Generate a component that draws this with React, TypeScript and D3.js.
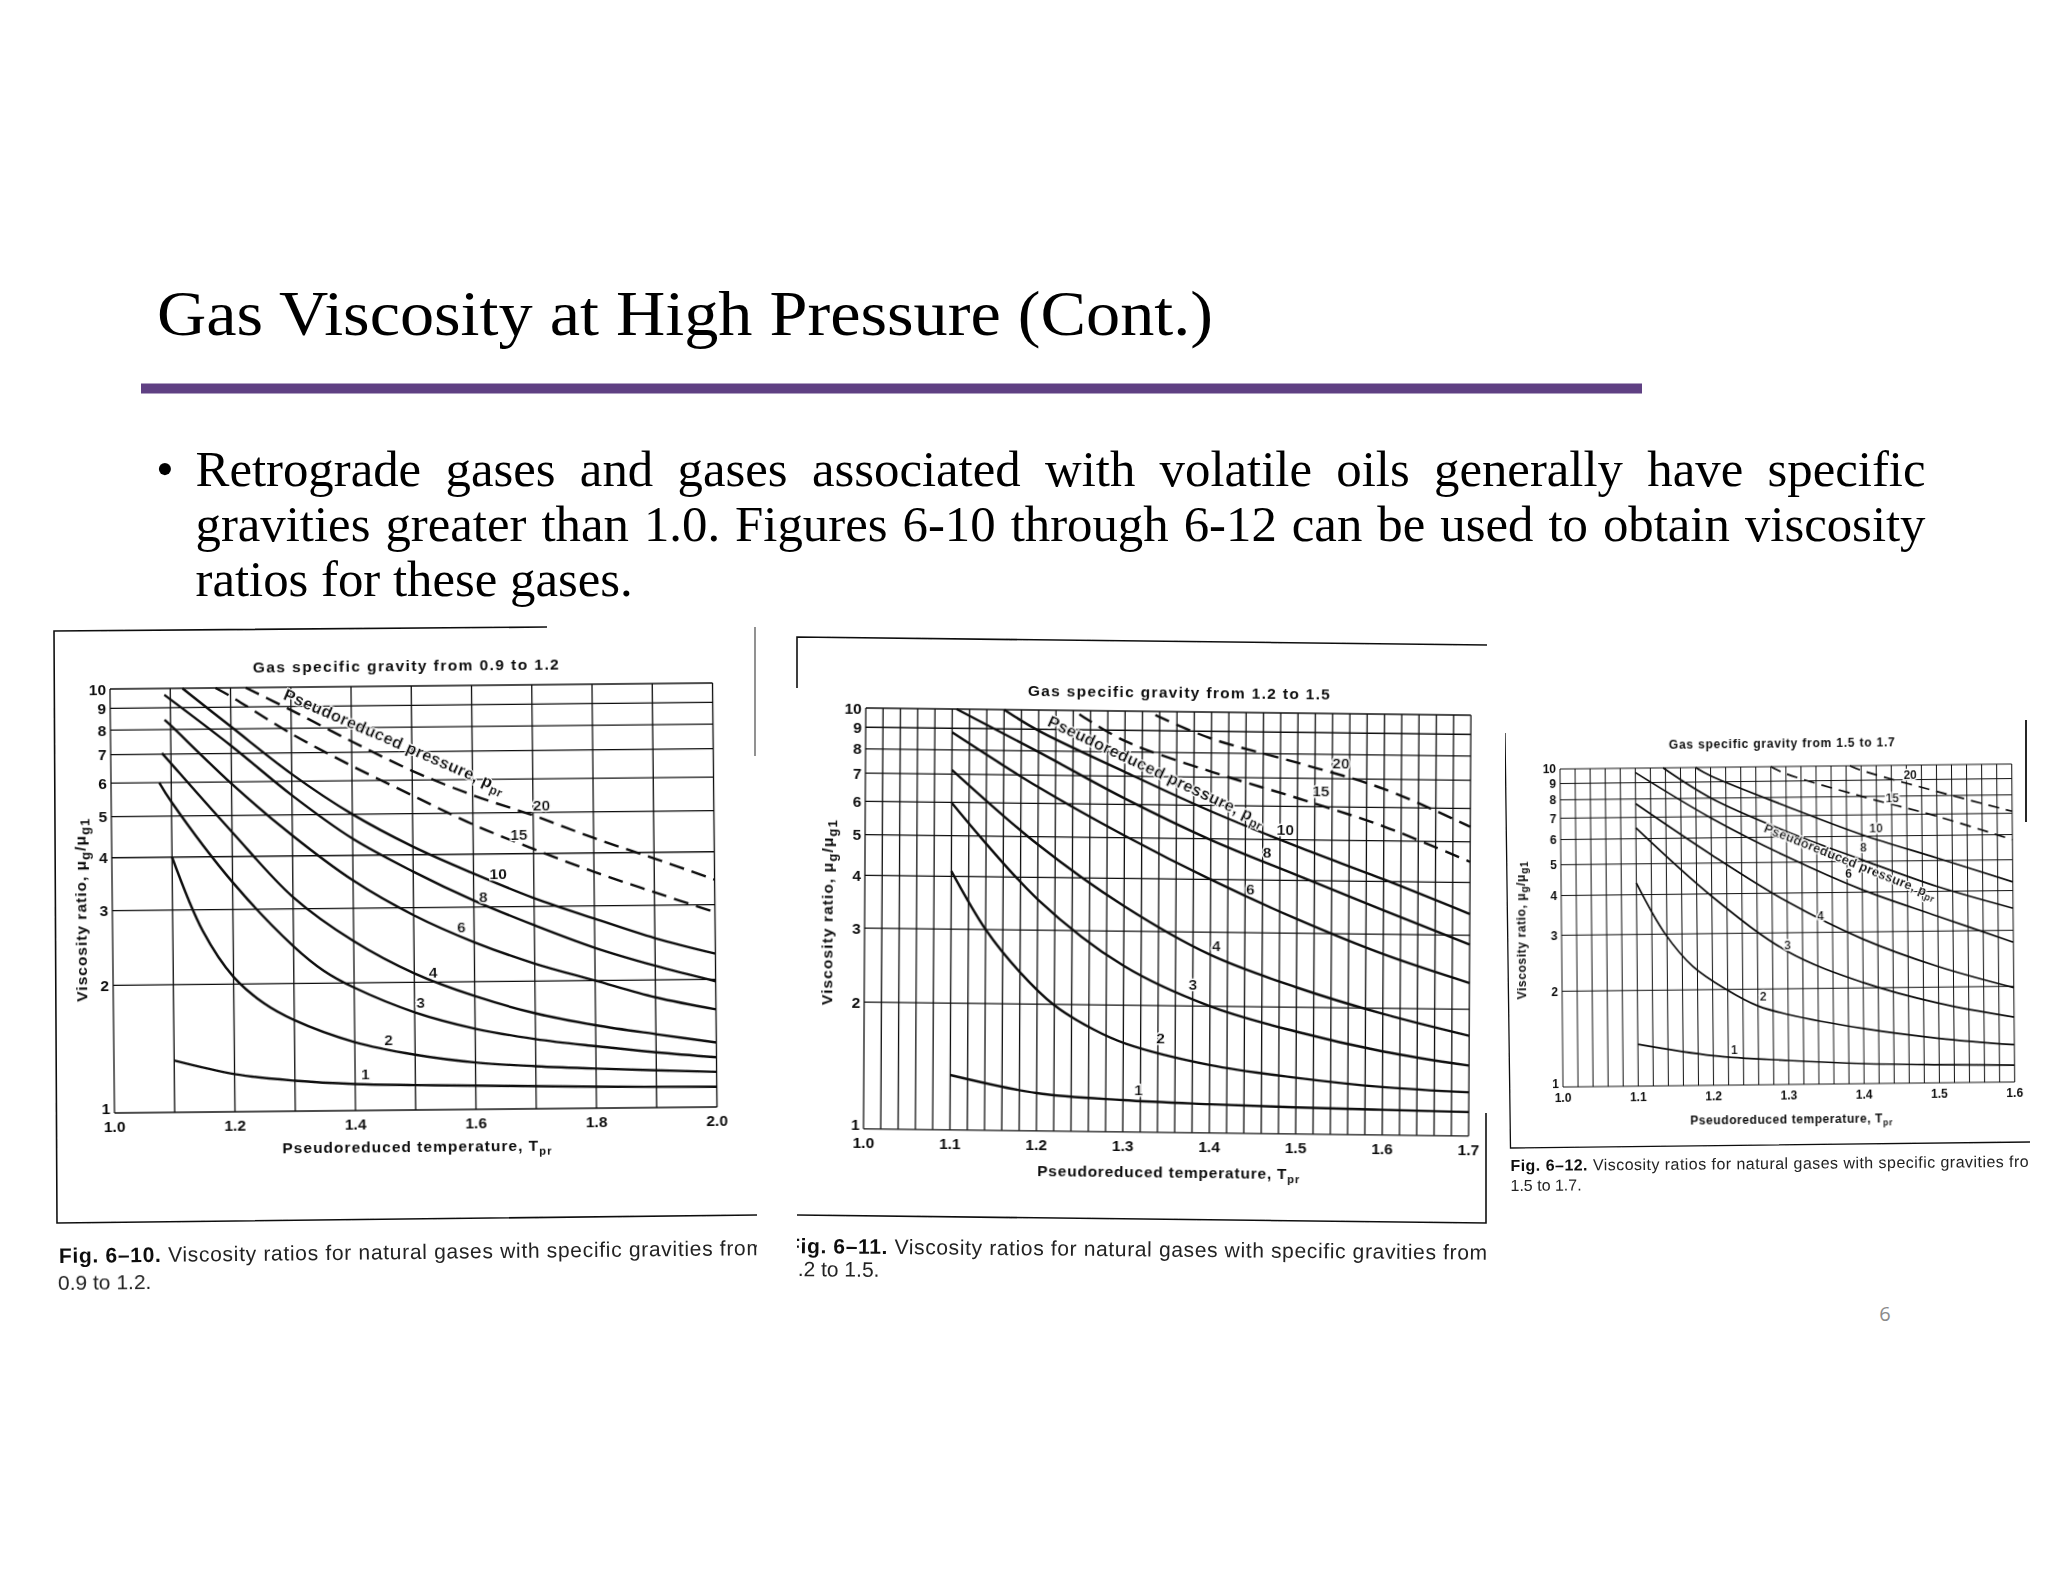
import React from "react";
import * as d3 from "d3";

type Pt = [number, number];
type Curve = { p: string; dashed?: boolean; pts: Pt[] };

const slideTitle = "Gas Viscosity at High Pressure (Cont.)";
const bulletLines = [
  "Retrograde gases and gases associated with volatile oils generally have specific",
  "gravities greater than 1.0. Figures 6-10 through 6-12 can be used to obtain viscosity",
  "ratios for these gases.",
];
const yTicks = [1, 2, 3, 4, 5, 6, 7, 8, 9, 10];

const fig10Curves: Curve[] = [
  { p: "1", pts: [[1.1, 1.325], [1.2, 1.227], [1.3, 1.18], [1.4, 1.155], [1.5, 1.145], [1.6, 1.138], [1.8, 1.124], [2.0, 1.116]] },
  { p: "2", pts: [[1.1, 4.0], [1.15, 2.67], [1.2, 2.08], [1.25, 1.8], [1.3, 1.64], [1.4, 1.45], [1.5, 1.35], [1.6, 1.29], [1.7, 1.26], [1.8, 1.24], [2.0, 1.21]] },
  { p: "3", pts: [[1.08, 6.0], [1.1, 5.4], [1.2, 3.48], [1.3, 2.45], [1.35, 2.14], [1.4, 1.95], [1.5, 1.7], [1.6, 1.55], [1.7, 1.46], [1.8, 1.4], [1.9, 1.35], [2.0, 1.31]] },
  { p: "4", pts: [[1.085, 7.04], [1.1, 6.65], [1.2, 4.57], [1.3, 3.2], [1.4, 2.51], [1.5, 2.1], [1.6, 1.85], [1.7, 1.68], [1.8, 1.57], [1.9, 1.49], [2.0, 1.42]] },
  { p: "6", pts: [[1.09, 8.43], [1.1, 8.18], [1.2, 5.94], [1.3, 4.47], [1.4, 3.49], [1.5, 2.88], [1.6, 2.48], [1.7, 2.2], [1.8, 2.0], [1.9, 1.82], [2.0, 1.7]] },
  { p: "8", pts: [[1.09, 9.66], [1.2, 7.3], [1.3, 5.56], [1.4, 4.38], [1.5, 3.65], [1.6, 3.11], [1.7, 2.71], [1.8, 2.39], [1.9, 2.16], [2.0, 1.98]] },
  { p: "10", pts: [[1.12, 10], [1.2, 8.1], [1.3, 6.24], [1.4, 5.0], [1.5, 4.18], [1.6, 3.6], [1.7, 3.14], [1.8, 2.8], [1.9, 2.51], [2.0, 2.3]] },
  { p: "15", dashed: true, pts: [[1.175, 10], [1.2, 9.55], [1.3, 7.77], [1.4, 6.5], [1.5, 5.52], [1.6, 4.7], [1.7, 4.1], [1.8, 3.61], [1.9, 3.22], [2.0, 2.88]] },
  { p: "20", dashed: true, pts: [[1.225, 10], [1.3, 8.83], [1.4, 7.43], [1.5, 6.31], [1.6, 5.51], [1.7, 4.92], [1.8, 4.34], [1.9, 3.87], [2.0, 3.44]] },
];
const fig10Labels: [string, number, number][] = [
  ["20", 1.714, 5.19], ["15", 1.676, 4.45], ["10", 1.641, 3.59], ["8", 1.616, 3.17], ["6", 1.579, 2.69],
  ["4", 1.531, 2.11], ["3", 1.51, 1.79], ["2", 1.456, 1.47], ["1", 1.417, 1.22],
];

const fig11Curves: Curve[] = [
  { p: "1", pts: [[1.1, 1.35], [1.2, 1.23], [1.3, 1.19], [1.4, 1.17], [1.5, 1.156], [1.6, 1.148], [1.7, 1.14]] },
  { p: "2", pts: [[1.1, 4.12], [1.141, 2.98], [1.18, 2.38], [1.22, 1.99], [1.265, 1.75], [1.303, 1.62], [1.4, 1.45], [1.5, 1.36], [1.6, 1.3], [1.7, 1.27]] },
  { p: "3", pts: [[1.1, 5.99], [1.2, 3.55], [1.3, 2.48], [1.4, 2.0], [1.5, 1.75], [1.6, 1.58], [1.7, 1.47]] },
  { p: "4", pts: [[1.1, 7.17], [1.2, 4.79], [1.3, 3.44], [1.4, 2.65], [1.5, 2.23], [1.6, 1.94], [1.7, 1.73]] },
  { p: "6", pts: [[1.1, 8.8], [1.2, 6.56], [1.3, 5.06], [1.4, 4.0], [1.5, 3.24], [1.6, 2.69], [1.7, 2.31]] },
  { p: "8", pts: [[1.105, 10], [1.2, 7.95], [1.3, 6.2], [1.4, 4.97], [1.5, 4.12], [1.6, 3.42], [1.7, 2.85]] },
  { p: "10", pts: [[1.16, 10], [1.2, 8.93], [1.3, 7.17], [1.4, 5.81], [1.5, 4.82], [1.6, 4.05], [1.7, 3.37]] },
  { p: "15", dashed: true, pts: [[1.247, 9.8], [1.3, 8.49], [1.4, 7.22], [1.5, 6.28], [1.6, 5.41], [1.7, 4.48]] },
  { p: "20", dashed: true, pts: [[1.335, 9.8], [1.4, 8.65], [1.5, 7.62], [1.6, 6.64], [1.7, 5.43]] },
];
const fig11Labels: [string, number, number][] = [
  ["20", 1.55, 7.63], ["15", 1.527, 6.56], ["10", 1.486, 5.3], ["8", 1.465, 4.66], ["6", 1.446, 3.8],
  ["4", 1.407, 2.79], ["3", 1.38, 2.25], ["2", 1.343, 1.68], ["1", 1.318, 1.26],
];

const fig12Curves: Curve[] = [
  { p: "1", pts: [[1.1, 1.355], [1.2, 1.24], [1.3, 1.19], [1.4, 1.156], [1.5, 1.14], [1.6, 1.13]] },
  { p: "2", pts: [[1.1, 4.35], [1.137, 3.02], [1.174, 2.37], [1.218, 2.0], [1.26, 1.77], [1.3, 1.66], [1.4, 1.49], [1.5, 1.38], [1.6, 1.31]] },
  { p: "3", pts: [[1.1, 6.49], [1.2, 3.93], [1.3, 2.62], [1.4, 2.08], [1.5, 1.78], [1.6, 1.6]] },
  { p: "4", pts: [[1.1, 7.73], [1.2, 5.31], [1.3, 3.76], [1.4, 2.85], [1.5, 2.32], [1.6, 1.98]] },
  { p: "6", pts: [[1.1, 9.69], [1.2, 6.93], [1.3, 5.21], [1.4, 4.07], [1.5, 3.34], [1.6, 2.75]] },
  { p: "8", pts: [[1.137, 10], [1.2, 8.01], [1.3, 6.25], [1.4, 5.06], [1.5, 4.14], [1.6, 3.52]] },
  { p: "10", pts: [[1.18, 10], [1.2, 9.4], [1.3, 7.5], [1.4, 6.07], [1.5, 5.09], [1.6, 4.26]] },
  { p: "15", dashed: true, pts: [[1.28, 10], [1.3, 9.49], [1.4, 8.01], [1.5, 6.89], [1.6, 5.78]] },
  { p: "20", dashed: true, pts: [[1.385, 10], [1.4, 9.67], [1.5, 8.25], [1.6, 7.1]] },
];
const fig12Labels: [string, number, number][] = [
  ["20", 1.465, 9.33], ["15", 1.441, 7.89], ["10", 1.419, 6.35], ["8", 1.402, 5.53], ["6", 1.382, 4.6],
  ["4", 1.344, 3.38], ["3", 1.3, 2.74], ["2", 1.267, 1.9], ["1", 1.228, 1.29],
];

const fig10Grid = d3.range(11).map((i) => 1 + i * 0.1);
const fig11Grid = d3.range(36).map((i) => 1 + i * 0.02);
const fig12Grid = d3.range(31).map((i) => 1 + i * 0.02);
const fig10XTicks = [1.0, 1.2, 1.4, 1.6, 1.8, 2.0];
const fig11XTicks = [1.0, 1.1, 1.2, 1.3, 1.4, 1.5, 1.6, 1.7];
const fig12XTicks = [1.0, 1.1, 1.2, 1.3, 1.4, 1.5, 1.6];

const SANS = "'Liberation Sans', Arial, sans-serif";
const SERIF = "'Liberation Serif', 'Times New Roman', serif";
const INK = "#111";

type PlotProps = {
  tl: Pt; tr: Pt; bl: Pt; br: Pt;
  xMax: number; grid: number[]; xTicks: number[]; curves: Curve[]; labels: [string, number, number][];
  title: string; titleY: number; titleW: number; titleCx: number;
  xLabelY: number; xLabelW: number; xLabelCx: number;
  yLabelX: number; yLabelCy: number; yLabelLen: number;
  tickFs: number; titleFs: number; labelFs: number; curveW: number; gridW: number; dash: string;
  xTickDy: number;
  pp: { x: number; v: number; angle: number; len: number; fs: number };
};

function Plot(p: PlotProps) {
  const w = Math.hypot(p.br[0] - p.bl[0], p.br[1] - p.bl[1]);
  const h = Math.hypot(p.tl[0] - p.bl[0], p.tl[1] - p.bl[1]);
  const m = [
    (p.br[0] - p.bl[0]) / w, (p.br[1] - p.bl[1]) / w,
    (p.bl[0] - p.tl[0]) / h, (p.bl[1] - p.tl[1]) / h,
    p.tl[0], p.tl[1],
  ];
  const x = d3.scaleLinear().domain([1, p.xMax]).range([0, w]);
  const y = d3.scaleLog().domain([1, 10]).range([h, 0]);
  const line = d3.line<Pt>().x((d) => x(d[0])).y((d) => y(d[1])).curve(d3.curveCatmullRom.alpha(0.5));
  const subDy = p.labelFs * 0.25;
  const tickBase = (t: number) =>
    t === 1 ? h + p.xTickDy - 1.13 * p.tickFs : y(t) + p.tickFs * 0.36;
  return (
    <g transform={`matrix(${m.join(",")})`} fontFamily={SANS} fill={INK} filter="url(#scan)">
      {p.grid.map((g) => (
        <line key={g} x1={x(g)} x2={x(g)} y1={0} y2={h} stroke={INK} strokeWidth={p.gridW} />
      ))}
      {yTicks.map((t) => (
        <line key={t} x1={0} x2={w} y1={y(t)} y2={y(t)} stroke={INK} strokeWidth={p.gridW} />
      ))}
      {p.curves.map((c) => (
        <path key={c.p} d={line(c.pts) as string} fill="none" stroke={INK} strokeWidth={p.curveW}
          strokeDasharray={c.dashed ? p.dash : undefined} />
      ))}
      {yTicks.map((t) => (
        <text key={t} x={-4} y={tickBase(t)} textAnchor="end" fontSize={p.tickFs} fontWeight="bold">{t}</text>
      ))}
      {p.xTicks.map((t) => (
        <text key={t} x={x(t)} y={h + p.xTickDy} textAnchor="middle" fontSize={p.tickFs} fontWeight="bold">{t.toFixed(1)}</text>
      ))}
      {p.labels.map(([s, lx, lv]) => (
        <text key={s} x={x(lx)} y={y(lv) + p.tickFs * 0.36} textAnchor="middle" fontSize={p.tickFs} fontWeight="bold"
          stroke="#fff" strokeWidth={2.5} paintOrder="stroke">{s}</text>
      ))}
      <text x={p.titleCx} y={p.titleY} textAnchor="middle" fontSize={p.titleFs} fontWeight="bold"
        textLength={p.titleW} lengthAdjust="spacing">{p.title}</text>
      <text x={p.xLabelCx} y={h + p.xLabelY} textAnchor="middle" fontSize={p.labelFs} fontWeight="bold"
        textLength={p.xLabelW} lengthAdjust="spacing">
        Pseudoreduced temperature, T<tspan dy={subDy} fontSize={p.labelFs * 0.72}>pr</tspan>
      </text>
      <text transform={`translate(${p.yLabelX},${p.yLabelCy}) rotate(-90)`} textAnchor="middle" fontSize={p.labelFs}
        fontWeight="bold" textLength={p.yLabelLen} lengthAdjust="spacing">
        Viscosity ratio, μ<tspan dy={subDy} fontSize={p.labelFs * 0.85}>g</tspan>
        <tspan dy={-subDy}>/μ</tspan><tspan dy={subDy} fontSize={p.labelFs * 0.85}>g1</tspan>
      </text>
      <text transform={`translate(${x(p.pp.x)},${y(p.pp.v)}) rotate(${p.pp.angle})`} fontSize={p.pp.fs} fontWeight="bold"
        stroke="#fff" strokeWidth={2} paintOrder="stroke" textLength={p.pp.len} lengthAdjust="spacing">
        Pseudoreduced pressure, p<tspan dy={p.pp.fs * 0.25} fontSize={p.pp.fs * 0.75}>pr</tspan>
      </text>
    </g>
  );
}

function Caption(props: { x: number; y: number; y2: number; angle: number; fs: number; bold: string; line1: string; line2: string; width: number; x2: number; clip: string }) {
  const { x, y, y2, angle, fs, bold, line1, line2, width, x2, clip } = props;
  return (
    <g clipPath={`url(#${clip})`} filter="url(#scan)">
      <text transform={`translate(${x},${y}) rotate(${angle})`} fontFamily={SANS} fontSize={fs} fill="#222"
        textLength={width} lengthAdjust="spacing">
        <tspan fontWeight="bold" fill={INK}>{bold}</tspan> {line1}
      </text>
      <text transform={`translate(${x2},${y2}) rotate(${angle})`} fontFamily={SANS} fontSize={fs} fill="#222">{line2}</text>
    </g>
  );
}

function wordSpacingFor(text: string, font: string, width: number) {
  const ctx = document.createElement("canvas").getContext("2d") as CanvasRenderingContext2D;
  ctx.font = font;
  const gaps = text.split(" ").length - 1;
  return (width - ctx.measureText(text).width) / gaps;
}

export default function App() {
  const bulletFs = 50.8;
  const bulletFont = `${bulletFs}px 'Liberation Serif'`;
  const bulletWidth = 1730;
  return (
    <svg width={2048} height={1582} viewBox="0 0 2048 1582" style={{ position: "absolute", left: 0, top: 0, background: "#fff" }}>
      <defs>
        <filter id="scan" x="-5%" y="-5%" width="110%" height="110%">
          <feGaussianBlur stdDeviation="0.4" />
        </filter>
        <clipPath id="clipA"><rect x={0} y={600} width={757} height={760} /></clipPath>
        <clipPath id="clipB"><rect x={797} y={600} width={700} height={760} /></clipPath>
        <clipPath id="clipC"><rect x={1505} y={600} width={525} height={760} /></clipPath>
      </defs>

      <text x={157} y={335} fontFamily={SERIF} fontSize={64} fill="#000" textLength={1056} lengthAdjust="spacingAndGlyphs">{slideTitle}</text>
      <rect x={141} y={383.5} width={1501} height={10} fill="#5f4083" />

      <text x={156} y={486} fontFamily={SERIF} fontSize={bulletFs}>•</text>
      {bulletLines.map((l, i) => (
        <text key={i} x={195.5} y={486 + i * 55} fontFamily={SERIF} fontSize={bulletFs} fill="#000"
          wordSpacing={i < 2 ? wordSpacingFor(l, bulletFont, bulletWidth) : 0}>{l}</text>
      ))}
      <text x={1885} y={1321} textAnchor="middle" fontFamily="'Open Sans', sans-serif" fontSize={20} fill="#8a8a8a">6</text>

      {/* Figure 6-10 */}
      <g stroke={INK} fill="none" strokeWidth={1.6} filter="url(#scan)" clipPath="url(#clipA)">
        <path d="M547,627 L54,631 L57,1223 L757,1215" />
        <path d="M755,627 L755,756" stroke="#777" />
      </g>
      <Plot tl={[110, 689]} tr={[713, 686]} bl={[114.5, 1113]} br={[717, 1107]}
        xMax={2} grid={fig10Grid} xTicks={fig10XTicks} curves={fig10Curves} labels={fig10Labels}
        title="Gas specific gravity from 0.9 to 1.2" titleY={-15} titleW={306} titleCx={296}
        xLabelY={42} xLabelW={269} xLabelCx={302} yLabelX={-26} yLabelCy={221} yLabelLen={183}
        tickFs={15.5} titleFs={15.5} labelFs={15.5} curveW={2.4} gridW={1.3} dash="15,8" xTickDy={19}
        pp={{ x: 1.286, v: 9.4, angle: 24, len: 239, fs: 16.5 }} />
      <Caption clip="clipA" x={59} y={1263} y2={1290} x2={58} angle={-0.65} fs={21} bold="Fig. 6–10."
        line1="Viscosity ratios for natural gases with specific gravities from" line2="0.9 to 1.2." width={705} />

      {/* Figure 6-11 */}
      <g stroke={INK} fill="none" strokeWidth={1.6} filter="url(#scan)">
        <path d="M797,688 L797,637 L1487,645" />
        <path d="M797,1215 L1486,1223 L1486,1113" />
      </g>
      <Plot tl={[865.8, 708]} tr={[1471, 714.7]} bl={[863.5, 1128.8]} br={[1468.6, 1136]}
        xMax={1.7} grid={fig11Grid} xTicks={fig11XTicks} curves={fig11Curves} labels={fig11Labels}
        title="Gas specific gravity from 1.2 to 1.5" titleY={-14} titleW={302} titleCx={313}
        xLabelY={45} xLabelW={262} xLabelCx={305} yLabelX={-32} yLabelCy={205} yLabelLen={185}
        tickFs={15.5} titleFs={15.5} labelFs={15.5} curveW={2.4} gridW={1.3} dash="15,8" xTickDy={19}
        pp={{ x: 1.209, v: 9.2, angle: 24.6, len: 237, fs: 16.5 }} />
      <Caption clip="clipB" x={787} y={1253} y2={1276} x2={786} angle={0.55} fs={21} bold="Fig. 6–11."
        line1="Viscosity ratios for natural gases with specific gravities from" line2="1.2 to 1.5." width={700} />

      {/* Figure 6-12 */}
      <g stroke={INK} fill="none" strokeWidth={1.3} filter="url(#scan)" clipPath="url(#clipC)">
        <path d="M1505,733 L1510.5,1148 L2030,1142" />
        <path d="M2026,720 L2026,822" strokeWidth={1.8} />
      </g>
      <Plot tl={[1560, 769]} tr={[2011, 763]} bl={[1563, 1087]} br={[2014.7, 1082]}
        xMax={1.6} grid={fig12Grid} xTicks={fig12XTicks} curves={fig12Curves} labels={fig12Labels}
        title="Gas specific gravity from 1.5 to 1.7" titleY={-19} titleW={226} titleCx={222}
        xLabelY={39} xLabelW={202} xLabelCx={228} yLabelX={-36} yLabelCy={161} yLabelLen={138}
        tickFs={12} titleFs={12} labelFs={12} curveW={1.7} gridW={1} dash="11,7" xTickDy={15}
        pp={{ x: 1.269, v: 6.26, angle: 22.4, len: 184, fs: 12.8 }} />
      <Caption clip="clipC" x={1510.5} y={1171} y2={1191} x2={1510.5} angle={-0.45} fs={16} bold="Fig. 6–12."
        line1="Viscosity ratios for natural gases with specific gravities from" line2="1.5 to 1.7." width={532} />
    </svg>
  );
}
